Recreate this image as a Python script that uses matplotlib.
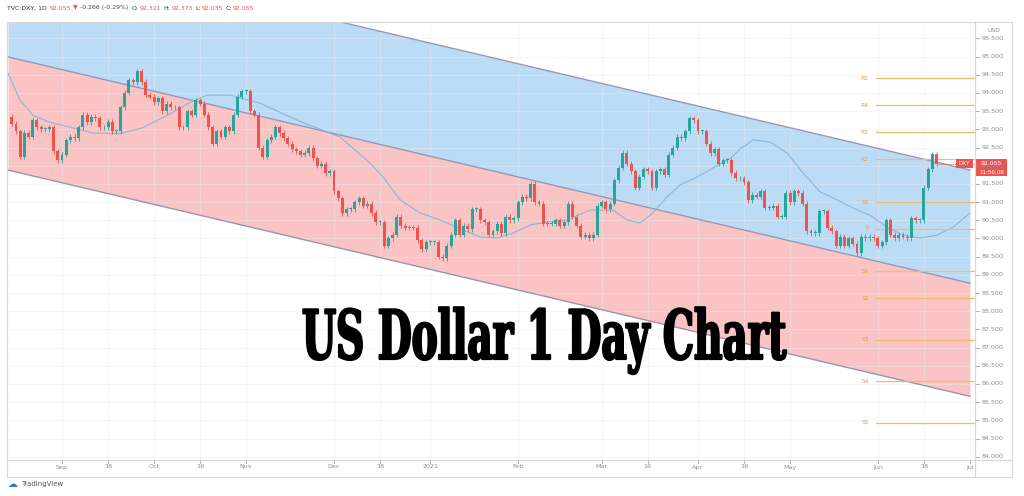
import numpy as np
import matplotlib
matplotlib.use("Agg")
import matplotlib.pyplot as plt
from matplotlib.patches import Rectangle
from matplotlib.lines import Line2D
from matplotlib.patheffects import AbstractPathEffect
from matplotlib.transforms import Affine2D

# TVC:DXY daily closes, one per weekday from 2020-08-14 to 2021-06-21
start_date = "2020-08-14"
first_open = 93.35
closes = [
    93.15, 92.95, 92.25, 92.90, 92.80, 93.25, 93.05, 93.00, 93.00, 93.05,
    92.40, 92.15, 92.30, 92.70, 92.80, 92.75, 93.05, 93.40, 93.20, 93.35,
    93.30, 93.05, 93.05, 93.20, 92.95, 92.95, 93.60, 94.00, 94.35, 94.30,
    94.60, 94.30, 93.95, 93.90, 93.75, 93.85, 93.50, 93.70, 93.60, 93.60,
    93.05, 93.05, 93.50, 93.40, 93.80, 93.70, 93.40, 93.05, 92.60, 92.95,
    92.80, 93.05, 92.95, 93.40, 93.90, 94.05, 94.05, 93.50, 93.40, 92.50,
    92.25, 92.70, 92.80, 93.05, 92.90, 92.75, 92.60, 92.45, 92.40, 92.30,
    92.35, 92.50, 92.20, 92.00, 92.05, 91.80, 91.85, 91.30, 91.10, 90.70,
    90.80, 90.80, 91.00, 91.10, 90.90, 90.95, 90.70, 90.45, 90.45, 89.80,
    90.00, 90.10, 90.60, 90.35, 90.30, 90.30, 90.30, 89.95, 89.70, 89.90,
    89.90, 89.90, 89.50, 89.45, 89.80, 90.10, 90.50, 90.10, 90.35, 90.25,
    90.80, 90.80, 90.50, 90.45, 90.10, 90.20, 90.40, 90.15, 90.60, 90.50,
    90.55, 91.00, 91.15, 91.10, 91.50, 91.00, 90.95, 90.40, 90.40, 90.40,
    90.50, 90.35, 90.45, 90.95, 90.60, 90.35, 90.05, 90.10, 90.00, 90.10,
    90.90, 91.00, 90.80, 90.95, 91.60, 91.95, 92.35, 92.05, 91.85, 91.40,
    91.70, 91.90, 91.85, 91.40, 91.85, 91.90, 91.75, 92.30, 92.50, 92.80,
    92.75, 92.95, 93.30, 93.25, 92.95, 92.95, 92.60, 92.35, 92.45, 92.05,
    92.15, 92.15, 91.80, 91.65, 91.65, 91.55, 91.05, 91.20, 91.15, 91.30,
    90.85, 90.85, 90.90, 90.60, 90.60, 91.25, 91.00, 91.30, 91.25, 90.95,
    90.20, 90.15, 90.15, 90.75, 90.75, 90.30, 90.20, 89.80, 90.05, 89.80,
    90.00, 89.85, 89.60, 90.05, 90.00, 90.05, 90.00, 89.80, 89.90, 90.50,
    90.10, 90.00, 90.10, 90.05, 90.00, 90.55, 90.50, 90.50, 91.40, 91.90,
    92.32, 92.055,
]

# moving average (light blue curve), read at bar positions
ma_idx = [-0.9, 2.0, 5.1, 9.1, 13.2, 19.4, 25.9, 31.4, 37.1, 42.6, 46.7, 52.2,
          59.3, 68.2, 78.4, 84.9, 88.7, 92.8, 97.6, 102.3, 106.4, 111.9, 116.0,
          119.8, 123.9, 127.9, 132.7, 138.2, 143.7, 147.0, 150.1, 153.2, 156.6,
          159.7, 163.8, 167.6, 171.7, 174.0, 177.2, 181.2, 185.3, 189.1, 193.2,
          197.2, 201.0, 205.1, 209.2, 213.0, 217.1, 221.1, 225.0, 229.0]
ma_val = [94.54, 93.79, 93.38, 93.19, 93.08, 92.90, 92.88, 93.05, 93.38, 93.74,
          93.94, 93.94, 93.72, 93.25, 92.79, 92.15, 91.69, 91.06, 90.70, 90.51,
          90.31, 90.04, 90.01, 90.15, 90.37, 90.45, 90.51, 90.78, 90.78, 90.51,
          90.42, 90.70, 91.14, 91.47, 91.69, 91.94, 92.20, 92.45, 92.71, 92.65,
          92.35, 91.80, 91.28, 91.06, 90.84, 90.64, 90.31, 90.09, 90.01, 90.09,
          90.31, 90.70]

# regression channel (mid line end points and channel half width)
chan_idx = [-0.9, 229.0]
chan_mid = [94.99, 88.77]
chan_width = 3.11

# monthly pivot points (June 2021)
pivot_names = ["R5", "R4", "R3", "R2", "R1", "P", "S1", "S2", "S3", "S4", "S5"]
pivot_levels = [94.40, 93.66, 92.92, 92.18, 91.00, 90.26, 89.10, 88.35, 87.22, 86.08, 84.94]
pivot_start = "2021-06-01"
pivot_end = "2021-07-01"

tick_dates = ["2020-09-01", "2020-09-16", "2020-10-01", "2020-10-16", "2020-11-02",
              "2020-12-01", "2020-12-16", "2021-01-01", "2021-02-01", "2021-03-01",
              "2021-03-16", "2021-04-01", "2021-04-16", "2021-05-03", "2021-06-01",
              "2021-06-16", "2021-07-01"]
tick_labels = ["Sep", "16", "Oct", "16", "Nov", "Dec", "16", "2021", "Feb", "Mar",
               "16", "Apr", "16", "May", "Jun", "16", "Jul"]
price_ticks = np.arange(84.0, 95.51, 0.5)

W, H = 1024, 496
GREEN, RED = "#26a69a", "#ef5350"
AXIS_GREY = "#8a8d96"
FRAME = "#d6d8de"
XMIN, XMAX = -0.91, 230.2
YMIN, YMAX = 83.91, 95.95


def px(x, y):
    return x / W, 1 - y / H


def bar_index(d):
    return int(np.busday_count(start_date, d))


class Stretch(AbstractPathEffect):
    # stretch the glyph outlines upward from the baseline and thicken them a bit
    def __init__(self, sy=1.0, lw=0.0):
        super().__init__()
        self.sy = sy
        self.lw = lw

    def draw_path(self, renderer, gc, tpath, affine, rgbFace=None):
        gc0 = renderer.new_gc()
        gc0.copy_properties(gc)
        gc0.set_linewidth(self.lw)
        gc0.set_joinstyle("round")
        renderer.draw_path(gc0, tpath, Affine2D().scale(1, self.sy) + affine, rgbFace)
        gc0.restore()


fig = plt.figure(figsize=(W / 100, H / 100), dpi=100)
fig.patch.set_facecolor("white")
x0, y0 = px(8, 460)
x1, y1 = px(975, 22)
ax = fig.add_axes([x0, y0, x1 - x0, y1 - y0])
ax.set_xlim(XMIN, XMAX)
ax.set_ylim(YMIN, YMAX)
for s in ax.spines.values():
    s.set_visible(False)
ax.set_xticks([])
ax.set_yticks([])

# channel bands
cx = np.array(chan_idx)
cm = np.array(chan_mid)
ax.fill_between(cx, cm, cm + chan_width, color="#bcdcf6", lw=0, zorder=1)
ax.fill_between(cx, cm - chan_width, cm, color="#fac4c4", lw=0, zorder=1)
for off in (-chan_width, 0, chan_width):
    ax.plot(cx, cm + off, color="#9797b4", lw=1.0, zorder=2)

# grid
for t in price_ticks:
    ax.axhline(t, color="#e9ecf2", lw=0.5, alpha=0.6, zorder=1.5)
tick_pos = [bar_index(d) for d in tick_dates]
for t in tick_pos:
    ax.axvline(t, color="#e9ecf2", lw=0.5, alpha=0.6, zorder=1.5)

# moving average
ax.plot(ma_idx, ma_val, color="#86b6de", lw=0.8, zorder=3)

# pivot levels
p0, p1 = bar_index(pivot_start), bar_index(pivot_end)
for name, lvl in zip(pivot_names, pivot_levels):
    ax.plot([p0 - 0.5, p1 + 2], [lvl, lvl], color="#f4b970", lw=0.9, zorder=3)
    ax.text(p0 - 2.2, lvl, name, ha="right", va="center", fontsize=4.2, color="#e49b45", zorder=3)

# candles
c = np.array(closes)
o = np.array([first_open] + closes[:-1])
idx = np.arange(len(c))
cols = np.where(c >= o, GREEN, RED)
wick = 0.07
ax.vlines(idx, np.minimum(o, c) - wick, np.maximum(o, c) + wick, colors=cols, lw=0.6, zorder=4)
body = np.maximum(np.abs(c - o), 0.025)
ax.bar(idx, body, bottom=np.minimum(o, c), width=0.7, color=cols, lw=0, zorder=5)

# last price line
ax.plot([idx[-1] + 0.5, 231], [c[-1], c[-1]], color=RED, lw=0.7, ls=(0, (1, 1)), zorder=4)

pos = ax.get_position()

# right price axis labels and ticks
for t in price_ticks:
    yf = pos.y0 + (t - YMIN) / (YMAX - YMIN) * pos.height
    fig.text(982 / W, yf, f"{t:.3f}", fontsize=4.6, color=AXIS_GREY, ha="left", va="center")
    fig.add_artist(Line2D([975 / W, 979 / W], [yf, yf], color=AXIS_GREY, lw=0.5))
fig.text(*px(994, 30), "USD", fontsize=4.3, color=AXIS_GREY, ha="center", va="center")

# bottom time axis labels
for t, lab in zip(tick_pos, tick_labels):
    xf = pos.x0 + (t - XMIN) / (XMAX - XMIN) * pos.width
    fig.text(xf, 1 - 467 / H, lab, fontsize=4.6, color=AXIS_GREY, ha="center", va="center")
    fig.add_artist(Line2D([xf, xf], [1 - 460 / H, 1 - 463 / H], color=AXIS_GREY, lw=0.5))

# frame lines
for (xa, ya, xb, yb) in [(7, 22, 1012, 22), (7, 477, 1012, 477), (7, 22, 7, 477),
                          (1012, 22, 1012, 477), (7, 460, 1012, 460), (975, 22, 975, 477)]:
    fig.add_artist(Line2D([xa / W, xb / W], [1 - ya / H, 1 - yb / H], color=FRAME, lw=0.8))

# price and symbol badges
bx, by = px(976, 176)
fig.add_artist(Rectangle((bx, by), 31 / W, 17 / H, color=RED, lw=0))
fig.text(*px(991.5, 164), "92.055", fontsize=4.4, color="white", ha="center", va="center")
fig.text(*px(991.5, 172), "11:56:08", fontsize=4.0, color="white", ha="center", va="center")
sx_, sy_ = px(956, 168)
fig.add_artist(Rectangle((sx_, sy_), 17 / W, 9 / H, color=RED, lw=0))
fig.text(*px(964.5, 163.5), "DXY", fontsize=4.0, color="white", ha="center", va="center")

# header line, laid out piece by piece
fig.canvas.draw()
renderer = fig.canvas.get_renderer()
header = [("TVC:DXY, 1D", "#333333", 3), ("92.055", RED, 2), ("\u25bc", RED, 2),
          ("-0.266 (-0.29%)", "#444444", 4), ("O:", "#333333", 0.5), ("92.321", RED, 3),
          ("H:", "#333333", 0.5), ("92.373", RED, 3), ("L:", "#333333", 0.5),
          ("92.035", RED, 3), ("C:", "#333333", 0.5), ("92.055", RED, 0)]
hx = 7
for txt, col, gap in header:
    t = fig.text(*px(hx, 8), txt, fontsize=4.4, color=col, ha="left", va="center")
    hx += t.get_window_extent(renderer).width + gap

# TradingView logo
fig.text(*px(7, 484), "\u2601", fontsize=7, color="#2f7ad1", ha="left", va="center")
fig.text(*px(21, 484), "TradingView", fontsize=5, color="#555555", ha="left", va="center")

# big overlay title: size it to the reference width, then stretch it to its height
title = fig.text(*px(302, 359), "US Dollar 1 Day Chart", fontsize=49, fontweight="bold",
                 family="DejaVu Serif", color="black", ha="left", va="baseline", zorder=10)
tw = title.get_window_extent(renderer).width
ratio = 484 / tw
title.set_fontsize(49 * ratio)
title.set_path_effects([Stretch(sy=1 / ratio, lw=1.6)])

fig.savefig("out.png", dpi=100, facecolor="white")
